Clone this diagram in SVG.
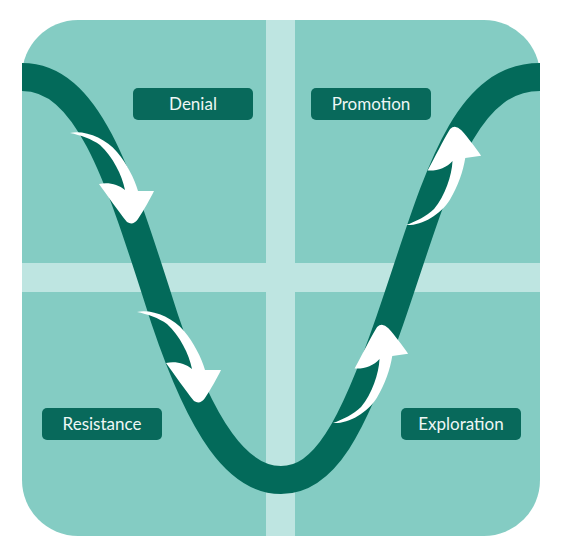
<svg xmlns="http://www.w3.org/2000/svg" xmlns:xlink="http://www.w3.org/1999/xlink" width="567" height="558" viewBox="0 0 567 558">
  <style>
    .quad { fill: #84CCC3; }
    .band { fill: #BEE5E1; }
    .curve { fill: none; stroke: #036A5A; stroke-width: 28; stroke-linecap: butt; }
    .arrow { fill: #FFFFFF; }
    .label-bg { fill: #08695B; }
    .label-text { fill: #EEF7F5; font-family: Lato, "Open Sans", "Liberation Sans", sans-serif; font-size: 17px; text-anchor: middle; }
  </style>
  <defs>
    <path id="swoosh" d="M0,0 C15,-3 35,5 47,19 C57,31 64,45 68,58 L84,58 C80,66 74,77 68,86 Q63,93 57,89 C48,78 38,63 29,51 C38,49 48,51 55,57 C52,42 43,24 30,12 C22,6 10,2 0,0 Z"/>
  </defs>

  <g id="background">
    <rect class="quad" x="22" y="20" width="518" height="516" rx="56" ry="56"/>
    <rect class="band" x="22" y="263" width="518" height="29"/>
    <rect class="band" x="266" y="20" width="29" height="516"/>
  </g>

  <g id="connectors">
    <path class="curve" d="M22,77 C90,77 120,180 165,320 C202,430 238,480 281,480 C324,480 352,430 390,320 C435,190 460,77 540,77"/>
    <use class="arrow" xlink:href="#swoosh" transform="translate(70,133)"/>
    <use class="arrow" xlink:href="#swoosh" transform="translate(137,312)"/>
    <use class="arrow" xlink:href="#swoosh" transform="translate(333,423) rotate(-8) scale(1,-1)"/>
    <use class="arrow" xlink:href="#swoosh" transform="translate(406,225) rotate(-8) scale(1,-1)"/>
  </g>

  <g id="denial">
    <rect class="label-bg" x="133" y="88" width="120" height="32" rx="5"/>
    <text class="label-text" x="193" y="110">Denial</text>
  </g>
  <g id="promotion">
    <rect class="label-bg" x="311" y="88" width="120" height="32" rx="5"/>
    <text class="label-text" x="371" y="110">Promotion</text>
  </g>
  <g id="resistance">
    <rect class="label-bg" x="42" y="408" width="120" height="32" rx="5"/>
    <text class="label-text" x="102" y="430">Resistance</text>
  </g>
  <g id="exploration">
    <rect class="label-bg" x="401" y="408" width="120" height="32" rx="5"/>
    <text class="label-text" x="461" y="430">Exploration</text>
  </g>
</svg>
